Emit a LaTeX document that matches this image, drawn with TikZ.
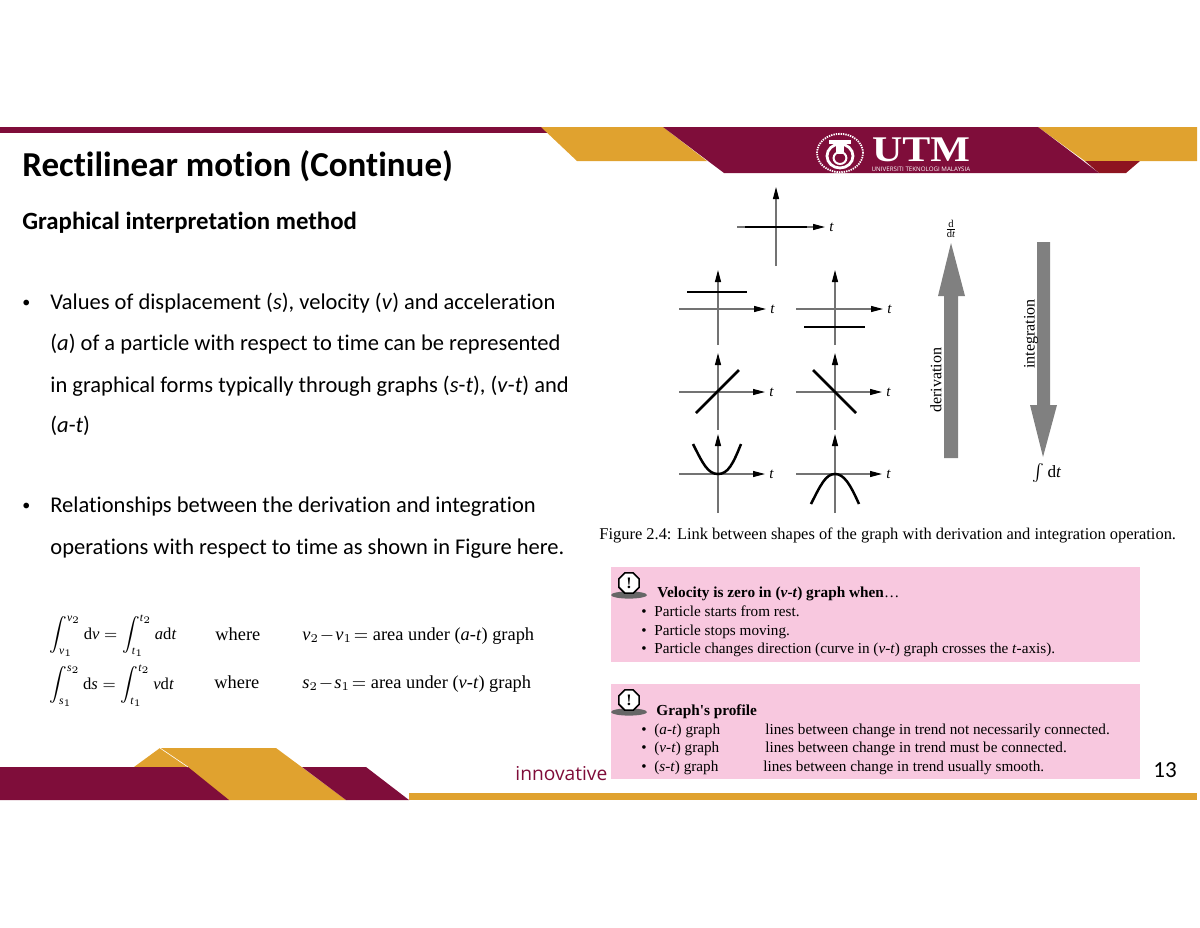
\documentclass[tikz,border=0pt]{standalone}
\usepackage{amsmath}
\usepackage{amssymb}
\usepackage{graphicx}
\usepackage{fontspec}
\usepackage{xcolor}
\usetikzlibrary{arrows.meta,shapes.geometric}
\setmainfont[Ligatures=CommonOff]{Carlito}
\newfontfamily\bookfont{Liberation Serif}
\newfontfamily\brandfont{Open Sans}
\definecolor{utm-maroon}{HTML}{7F0D3A}
\definecolor{utm-gold}{HTML}{E0A22F}
\definecolor{utm-red}{HTML}{8E1420}
\definecolor{note-pink}{HTML}{F8C8DF}
\definecolor{arrow-gray}{HTML}{808080}
\newcommand{\bookvar}[1]{\text{\textit{#1}}}
\tikzset{
    slide-text/.style = {anchor=base west, inner sep=0pt, font=\fontsize{11.25}{13}\selectfont},
    slide-dot/.style = {anchor=base west, inner sep=0pt, font=\fontsize{8}{9}\selectfont},
    slide-title/.style = {anchor=base west, inner sep=0pt, font=\fontsize{17.5}{20}\selectfont\bfseries},
    slide-head/.style = {anchor=base west, inner sep=0pt, font=\fontsize{12.4}{14}\selectfont\bfseries},
    book-text/.style = {anchor=base west, inner sep=0pt, font=\fontsize{7.6}{9}\bookfont},
    book-head/.style = {anchor=base west, inner sep=0pt, font=\fontsize{7.65}{9}\bookfont\bfseries},
    book-eq/.style = {anchor=base west, inner sep=0pt, font=\fontsize{9.2}{11}\bookfont},
    book-int/.style = {anchor=base west, inner sep=0pt, font=\fontsize{8.3}{10}\bookfont},
    note-box/.style = {fill=note-pink, draw=none},
    warn-icon/.style = {draw=black, line width=0.8pt, fill=white, regular polygon, regular polygon sides=8, minimum size=11pt, inner sep=0pt, font=\fontsize{8}{8}\bookfont\bfseries},
    axis-line/.style = {draw=black!55, line width=0.6pt, -{Triangle[black, length=6pt, width=3pt]}},
    graph-line/.style = {draw=black, line width=1.25pt},
}

\begin{document}
\begin{tikzpicture}[x=0.5pt, y=-0.5pt]
\useasboundingbox (0,0) rectangle (1200,927);

% top band
\fill[utm-maroon] (0,127) rectangle (552,133);
\fill[utm-gold] (541,127) -- (663,127) -- (707,161) -- (577,161) -- cycle;
\fill[utm-gold] (1038,127) -- (1197,127) -- (1197,161) -- (1085,161) -- cycle;
\fill[utm-red] (1085,161) -- (1140,161) -- (1126,173) -- (1099,173) -- cycle;
\fill[utm-maroon] (663,127) -- (1038,127) -- (1099,173) -- (724,173) -- cycle;

% logo
\draw[white, line width=0.9pt, dash pattern=on 0.7pt off 0.5pt] (840,153) ellipse [x radius=11.5pt, y radius=9.6pt];
\draw[white, line width=1.4pt] (840,156) ellipse [x radius=6.5pt, y radius=6pt];
\draw[white, line width=1pt] (840,158) ellipse [x radius=3.2pt, y radius=3pt];
\fill[white] (829,140) rectangle (851,144);
\fill[white] (836,144) rectangle (844,154);
\node[anchor=base, inner sep=0pt, text=white, font=\fontsize{21}{21}\bookfont\bfseries] (utm) at (921,161) {\scalebox{1}[0.86]{UTM}};
\node[anchor=base, inner sep=0pt, text=white, font=\fontsize{3.1}{3}\brandfont] (utm-name) at (921,171) {UNIVERSITI TEKNOLOGI MALAYSIA};

% bottom band
\fill[utm-gold] (409,793) rectangle (1197,800);
\fill[utm-gold] (134,767) -- (160,748) -- (276,748) -- (346,800) -- (229,800) -- cycle;
\fill[utm-maroon] (0,767) -- (188,767) -- (229,800) -- (0,800) -- cycle;
\fill[utm-maroon] (302,767) -- (366,767) -- (409,800) -- (346,800) -- cycle;
\draw[white, line width=0.3pt] (160,748) -- (188,767);
\node[anchor=west, inner sep=0pt, text=utm-maroon, font=\fontsize{9.6}{11}\brandfont] (brand) at (515,774) {innovative};

% left column
\node[slide-title] (title) at (22,176) {Rectilinear motion (Continue)};
\node[slide-head] (subtitle) at (22,229) {Graphical interpretation method};
\node[slide-dot] (bullet-a) at (22,307) {•};
\node[slide-text] (line-a) at (50,309) {Values of displacement (\textit{s}), velocity (\textit{v}) and acceleration};
\node[slide-text] (line-b) at (50,350) {(\textit{a}) of a particle with respect to time can be represented};
\node[slide-text] (line-c) at (50,392) {in graphical forms typically through graphs (\textit{s}-\textit{t}), (\textit{v}-\textit{t}) and};
\node[slide-text] (line-d) at (50,432) {(\textit{a}-\textit{t})};
\node[slide-dot] (bullet-b) at (22,510) {•};
\node[slide-text] (line-e) at (50,512) {Relationships between the derivation and integration};
\node[slide-text] (line-f) at (50,554) {operations with respect to time as shown in Figure here.};

% equations
\node[book-int] (eq-a) at (49,639) {$\displaystyle\int_{\bookvar{v}_1}^{\bookvar{v}_2}\text{d}\bookvar{v}=\int_{\bookvar{t}_1}^{\bookvar{t}_2}\bookvar{a}\text{d}\bookvar{t}$};
\node[book-eq] (where-a) at (215,640) {where};
\node[book-eq] (area-a) at (302,640) {$\bookvar{v}_2\!-\!\bookvar{v}_1\!=$ area under (\textit{a}-\textit{t}) graph};
\node[book-int] (eq-b) at (49,689) {$\displaystyle\int_{\bookvar{s}_1}^{\bookvar{s}_2}\text{d}\bookvar{s}=\int_{\bookvar{t}_1}^{\bookvar{t}_2}\bookvar{v}\text{d}\bookvar{t}$};
\node[book-eq] (where-b) at (214,688) {where};
\node[book-eq] (area-b) at (302,688) {$\bookvar{s}_2\!-\!\bookvar{s}_1\!=$ area under (\textit{v}-\textit{t}) graph};

% axes of the small graphs
\foreach \vx/\hy/\ya/\yb/\xa/\xb [count=\i] in {776/227/266/187/737/825, 718/309/345/270/679/766, 835/309/345/270/796/883, 718/392/430/353/679/765, 835/392/430/353/796/882, 718/474/513/434/679/765, 835/474/513/434/796/882}{
    \draw[axis-line] (\vx,\ya) -- (\vx,\yb);
    \draw[axis-line] (\xa,\hy) -- (\xb,\hy);
    \node[anchor=west, inner sep=0pt, font=\fontsize{7.5}{8}\bookfont\itshape] (t\i) at (\xb+4,\hy) {t};
}
\draw[graph-line] (745,227) -- (807,227);
\draw[graph-line] (687,292) -- (747,292);
\draw[graph-line] (804,327) -- (865,327);
\draw[graph-line] (696,413) -- (739,370);
\draw[graph-line] (813,370) -- (856,413);
\draw[graph-line] (693,444) .. controls (703,464) and (708,474) .. (718,474) .. controls (728,474) and (733,464) .. (741,444);
\draw[graph-line] (811,504) .. controls (821,484) and (826,474) .. (835,474) .. controls (844,474) and (850,484) .. (859,504);

% derivation and integration arrows
\fill[arrow-gray] (944,458) -- (958,458) -- (958,296) -- (965,296) -- (951,243) -- (938,296) -- (944,296) -- cycle;
\fill[arrow-gray] (1037,242) -- (1050,242) -- (1050,405) -- (1057,405) -- (1043,457) -- (1030,405) -- (1037,405) -- cycle;
\node[inner sep=0pt, font=\fontsize{7.5}{8}\bookfont] (ddt) at (951,229) {$\frac{\text{d}}{\text{d}\bookvar{t}}$};
\node[inner sep=0pt, rotate=90, font=\fontsize{8}{10}\bookfont] (derivation) at (936,380) {derivation};
\node[inner sep=0pt, rotate=90, font=\fontsize{8}{10}\bookfont] (integration) at (1031,334) {integration};
\node[inner sep=0pt, font=\fontsize{8.6}{10}\bookfont] (intdt) at (1047,473) {$\int\text{d}\bookvar{t}$};
\node[book-text, font=\fontsize{8.22}{10}\bookfont] (caption) at (599,539) {Figure 2.4: Link between shapes of the graph with derivation and integration operation.};

% first note
\fill[note-box] (611,567) rectangle (1140,662);
\fill[black!60] (629,595) ellipse [x radius=9pt, y radius=1.8pt];
\node[warn-icon] (icon-a) at (629,583) {!};
\node[book-head] (head-a) at (657,597) {Velocity is zero in (\textit{v}-\textit{t}) graph when\textmd{\dots}};
\foreach \ty/\body [count=\i] in {616/{Particle starts from rest.}, 635/{Particle stops moving.}, 653/{Particle changes direction (curve in (\textit{v}-\textit{t}) graph crosses the \textit{t}-axis).}}{
    \node[book-text] (dot-a\i) at (641,\ty) {•};
    \node[book-text] (item-a\i) at (654,\ty) {\body};
}

% second note
\fill[note-box] (611,684) rectangle (1140,779);
\fill[black!60] (629,712) ellipse [x radius=9pt, y radius=1.8pt];
\node[warn-icon] (icon-b) at (629,700) {!};
\node[book-head] (head-b) at (656,715) {Graph's profile};
\foreach \ty/\name/\tx/\body [count=\i] in {734/a/765/{lines between change in trend not necessarily connected.}, 752/v/765/{lines between change in trend must be connected.}, 771/s/763/{lines between change in trend usually smooth.}}{
    \node[book-text] (dot-b\i) at (641,\ty) {•};
    \node[book-text] (item-b\i) at (654,\ty) {(\textit{\name}-\textit{t}) graph};
    \node[book-text] (text-b\i) at (\tx,\ty) {\body};
}

\node[inner sep=0pt, font=\fontsize{11.5}{14}\selectfont] (page) at (1165,770) {13};
\end{tikzpicture}
\end{document}
